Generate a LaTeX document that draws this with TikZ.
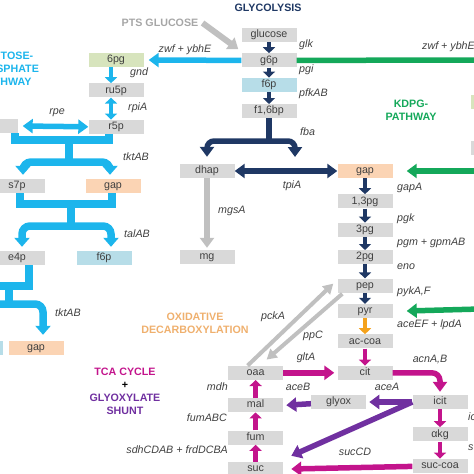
\documentclass[tikz,border=0pt]{standalone}
\usepackage{fontspec}
\setmainfont{Liberation Sans}
\usetikzlibrary{arrows.meta, positioning, calc}
\definecolor{boxgray}{HTML}{D9D9D9}
\definecolor{boxpeach}{HTML}{FBD4B4}
\definecolor{boxblue}{HTML}{B7DDE8}
\definecolor{boxolive}{HTML}{D7E4BD}
\definecolor{glyco}{HTML}{1F3864}
\definecolor{ppp}{HTML}{1CB5EC}
\definecolor{kdpg}{HTML}{14A85A}
\definecolor{tca}{HTML}{C3148C}
\definecolor{gxpurple}{HTML}{7030A0}
\definecolor{oxdec}{HTML}{F4A21C}
\definecolor{oxdectext}{HTML}{EFB06E}
\definecolor{sidegray}{HTML}{C0C0C0}
\definecolor{ptsgray}{HTML}{A6A6A6}
\definecolor{inktext}{HTML}{404040}
\tikzstyle{metab} = [rectangle, minimum width=55pt, minimum height=14pt, inner sep=0pt, text height=7.5pt, text depth=2.2pt, text=inktext, fill=boxgray, font=\fontsize{10.7}{13}\selectfont]
\tikzstyle{enzyme} = [inner sep=0pt, text=inktext, font=\itshape\fontsize{10.7}{13}\selectfont]
\tikzstyle{pathway} = [inner sep=0pt, align=center, font=\bfseries\fontsize{10.7}{13}\selectfont]
\tikzstyle{stepflux} = [line width=4.5pt, ->, >={Triangle[width=12pt,length=6pt]}]
\tikzstyle{bigflux} = [line width=5.5pt, ->, >={Triangle[width=14pt,length=10pt]}]
\tikzstyle{pppmerge} = [line width=7.5pt, draw=ppp, >={Triangle[width=15pt,length=9pt]}]
\tikzstyle{sideflux} = [line width=4pt, sidegray, ->, >={Triangle[width=11pt,length=10pt]}]
\begin{document}
\begin{tikzpicture}[x=1pt, y=1pt]
  \useasboundingbox (0,0) rectangle (474,-474);
  \clip (0,0) rectangle (474,-474);
  % glycolysis
  \node (glucose) [metab] at (269,-35) {glucose};
  \node (g6p) [metab, below=11pt of glucose] {g6p};
  \node (f6p) [metab, fill=boxblue, below=10pt of g6p] {f6p};
  \node (f16bp) [metab, below=12pt of f6p] {f1,6bp};
  \node (dhap) [metab] at (207,-171) {dhap};
  \node (gap) [metab, fill=boxpeach] at (365,-171) {gap};
  \node (mg) [metab] at (207,-257) {mg};
  \node (bpg) [metab, below=16pt of gap] {1,3pg};
  \node (pg3) [metab, below=14pt of bpg] {3pg};
  \node (pg2) [metab, below=13pt of pg3] {2pg};
  \node (pep) [metab, below=14pt of pg2] {pep};
  \node (pyr) [metab, below=11pt of pep] {pyr};
  \node (accoa) [metab, below=16pt of pyr] {ac-coa};
  \node (cit) [metab, below=17pt of accoa] {cit};
  % tca cycle and glyoxylate shunt
  \node (oaa) [metab, left=54pt of cit] {oaa};
  \node (mal) [metab, below=18pt of oaa] {mal};
  \node (fum) [metab, below=18pt of mal] {fum};
  \node (suc) [metab, below=17pt of fum] {suc};
  \node (icit) [metab] at (440,-402) {icit};
  \node (akg) [metab, below=18pt of icit] {αkg};
  \node (succoa) [metab, below=17pt of akg] {suc-coa};
  \node (glyox) [metab, left=46pt of icit] {glyox};
  % pentose phosphate pathway
  \node (pg6) [metab, fill=boxolive] at (116,-60) {6pg};
  \node (ru5p) [metab, below=16pt of pg6] {ru5p};
  \node (r5p) [metab, below=22pt of ru5p] {r5p};
  \node (xu5p) [metab] at (-10,-126) {};
  \node (s7p) [metab] at (17,-186) {s7p};
  \node (gapP) [metab, fill=boxpeach] at (113,-186) {gap};
  \node (e4p) [metab] at (17,-258) {e4p};
  \node (f6pP) [metab, fill=boxblue] at (104,-258) {f6p};
  \node (gapQ) [metab, fill=boxpeach] at (36,-348) {gap};
  \node (f6pQ) [metab, fill=boxblue] at (-25,-348) {};
  \node (kdpgA) [metab, fill=boxolive] at (498,-102) {};
  \node (kdpgB) [metab] at (498,-148) {};
  % titles
  \node (glytitle) [pathway, text=glyco] at (268,-8) {GLYCOLYSIS};
  \node (pts) [pathway, text=ptsgray] at (160,-23) {PTS GLUCOSE};
  \node (ppptitle) [pathway, text=ppp] at (6,-69) {PENTOSE-\\PHOSPHATE\\PATHWAY};
  \node (kdpgtitle) [pathway, text=kdpg] at (411,-110) {KDPG-\\PATHWAY};
  \node (oxtitle) [pathway, text=oxdectext] at (195,-323) {OXIDATIVE\\DECARBOXYLATION};
  \node (tcatitle) [pathway] at (125,-391) {\textcolor{tca}{TCA CYCLE}\\+\\\textcolor{gxpurple}{GLYOXYLATE}\\\textcolor{gxpurple}{SHUNT}};
  % enzymes
  \node (glk) [enzyme, anchor=west] at (299,-45) {glk};
  \node (pgi) [enzyme, anchor=west] at (299,-70) {pgi};
  \node (pfk) [enzyme, anchor=west] at (299,-94) {pfkAB};
  \node (fba) [enzyme, anchor=west] at (300,-132) {fba};
  \node (tpia) [enzyme] at (292,-186) {tpiA};
  \node (mgsa) [enzyme, anchor=west] at (218,-211) {mgsA};
  \node (gapa) [enzyme, anchor=west] at (397,-188) {gapA};
  \node (pgk) [enzyme, anchor=west] at (397,-219) {pgk};
  \node (pgm) [enzyme, anchor=west] at (397,-243) {pgm + gpmAB};
  \node (eno) [enzyme, anchor=west] at (397,-267) {eno};
  \node (pyk) [enzyme, anchor=west] at (397,-292) {pykA,F};
  \node (pdh) [enzyme, anchor=west] at (397,-325) {aceEF + lpdA};
  \node (acn) [enzyme] at (430,-359) {acnA,B};
  \node (icd) [enzyme, anchor=west] at (468,-417) {icd};
  \node (sucab) [enzyme, anchor=west] at (468,-447) {sucAB};
  \node (glta) [enzyme] at (306,-358) {gltA};
  \node (pcka) [enzyme] at (273,-317) {pckA};
  \node (ppc) [enzyme] at (313,-336) {ppC};
  \node (mdh) [enzyme, anchor=east] at (228,-387) {mdh};
  \node (fumabc) [enzyme, anchor=east] at (227,-418) {fumABC};
  \node (sdh) [enzyme, anchor=east] at (228,-450) {sdhCDAB + frdDCBA};
  \node (aceb) [enzyme] at (298,-387) {aceB};
  \node (acea) [enzyme] at (387,-387) {aceA};
  \node (succd) [enzyme] at (355,-452) {sucCD};
  \node (zwfL) [enzyme] at (185,-50) {zwf + ybhE};
  \node (zwfR) [enzyme, anchor=west] at (422,-47) {zwf + ybhE};
  \node (gnd) [enzyme, anchor=west] at (130,-73) {gnd};
  \node (rpia) [enzyme, anchor=west] at (128,-108) {rpiA};
  \node (rpe) [enzyme] at (57,-113) {rpe};
  \node (tktA) [enzyme, anchor=west] at (123,-157) {tktAB};
  \node (tal) [enzyme, anchor=west] at (124,-234) {talAB};
  \node (tktB) [enzyme, anchor=west] at (55,-313) {tktAB};
  % glycolysis fluxes
  \draw [stepflux, glyco] (glucose) -- (g6p);
  \draw [stepflux, glyco] (g6p) -- (f6p);
  \draw [stepflux, glyco] (f6p) -- (f16bp);
  \coordinate (fbasplit) at (269,-141);
  \coordinate (fbaright) at (295,-157);
  \draw [line width=5.5pt, glyco] (f16bp.south) -- (fbasplit);
  \draw [bigflux, glyco, rounded corners=7pt] (fbasplit) -| ([yshift=7pt]dhap.north);
  \draw [bigflux, glyco, rounded corners=7pt] (fbasplit) -| (fbaright);
  \draw [bigflux, glyco, <->] (dhap) -- (gap);
  \draw [bigflux, sidegray, line width=6pt] (dhap) -- ([yshift=2pt]mg.north);
  \draw [stepflux, glyco] (gap) -- (bpg);
  \draw [stepflux, glyco] (bpg) -- (pg3);
  \draw [stepflux, glyco] (pg3) -- (pg2);
  \draw [stepflux, glyco] (pg2) -- (pep);
  \draw [stepflux, glyco] (pep) -- (pyr);
  \draw [stepflux, oxdec] (pyr) -- (accoa);
  \draw [stepflux, tca] (accoa) -- (cit);
  \draw [bigflux, sidegray, line width=6pt] ([xshift=4pt]pts.east) -- ([shift={(-3pt,4pt)}]g6p.north west);
  % kdpg pathway
  \coordinate (kdpgin) at (480,-60);
  \coordinate (kdpggap) at (480,-171);
  \coordinate (kdpgpyr) at (480,-309);
  \draw [line width=5.5pt, kdpg] (g6p.east) -- (kdpgin);
  \draw [bigflux, kdpg] (kdpggap) -- ([xshift=14pt]gap.east);
  \draw [bigflux, kdpg] (kdpgpyr) -- ([xshift=14pt]pyr.east);
  % pentose phosphate fluxes
  \draw [bigflux, ppp] (g6p.west) -- ([xshift=5pt]pg6.east);
  \draw [stepflux, ppp] ([xshift=-5pt]pg6.south) -- ([xshift=-5pt]ru5p.north);
  \draw [stepflux, ppp, <->] ([xshift=-5pt]ru5p.south) -- ([xshift=-5pt]r5p.north);
  \draw [bigflux, ppp, <->] ([xshift=5pt]xu5p.east) -- (r5p.west);
  \draw [pppmerge] ([xshift=25pt]xu5p.south) |- (69,-140) -| ([xshift=-7pt]r5p.south);
  \draw [pppmerge] (69,-140) -- (69,-162);
  \draw [pppmerge, <->, rounded corners=8pt] ([shift={(6pt,4pt)}]s7p.north) |- (69,-162) -| ([shift={(-3pt,4pt)}]gapP.north);
  \draw [pppmerge] ([xshift=3pt]s7p.south) |- (71,-204) -| ([xshift=-1pt]gapP.south);
  \draw [pppmerge] (71,-204) -- (71,-226);
  \draw [pppmerge, <->, rounded corners=8pt] ([shift={(5pt,4pt)}]e4p.north) |- (71,-226) -| ([shift={(7pt,4pt)}]f6pP.north);
  \coordinate (tktin) at (-20,-286);
  \coordinate (tktout) at (-20,-304);
  \draw [pppmerge] ([xshift=12pt]e4p.south) |- (tktin);
  \draw [pppmerge] (9,-286) -- (9,-304);
  \draw [pppmerge, ->, rounded corners=8pt] (tktout) -| ([shift={(7pt,6pt)}]gapQ.north);
  % tca and glyoxylate fluxes
  \draw [bigflux, tca] (oaa.east) -- ([xshift=-3pt]cit.west);
  \draw [bigflux, tca, rounded corners=8pt] (cit.east) -| ([yshift=3pt]icit.north);
  \draw [stepflux, tca] (icit) -- (akg);
  \draw [stepflux, tca] (akg) -- (succoa);
  \draw [bigflux, tca] (succoa) -- ([xshift=8pt]suc.east);
  \draw [stepflux, tca] (suc) -- (fum);
  \draw [stepflux, tca] (fum) -- (mal);
  \draw [stepflux, tca] (mal) -- (oaa);
  \draw [bigflux, gxpurple] (icit.west) -- ([xshift=3pt]glyox.east);
  \draw [bigflux, gxpurple] (glyox) -- ([xshift=3pt]mal.east);
  \draw [bigflux, gxpurple] (icit.west) -- ($(suc.north east)+(8,6)$);
  \draw [sideflux] ([xshift=-8pt]oaa.north) -- ([shift={(-4pt,2pt)}]pep.west);
  \draw [sideflux] ([shift={(5pt,-1pt)}]pep.south west) -- ([shift={(11pt,6pt)}]oaa.north);
\end{tikzpicture}
\end{document}
